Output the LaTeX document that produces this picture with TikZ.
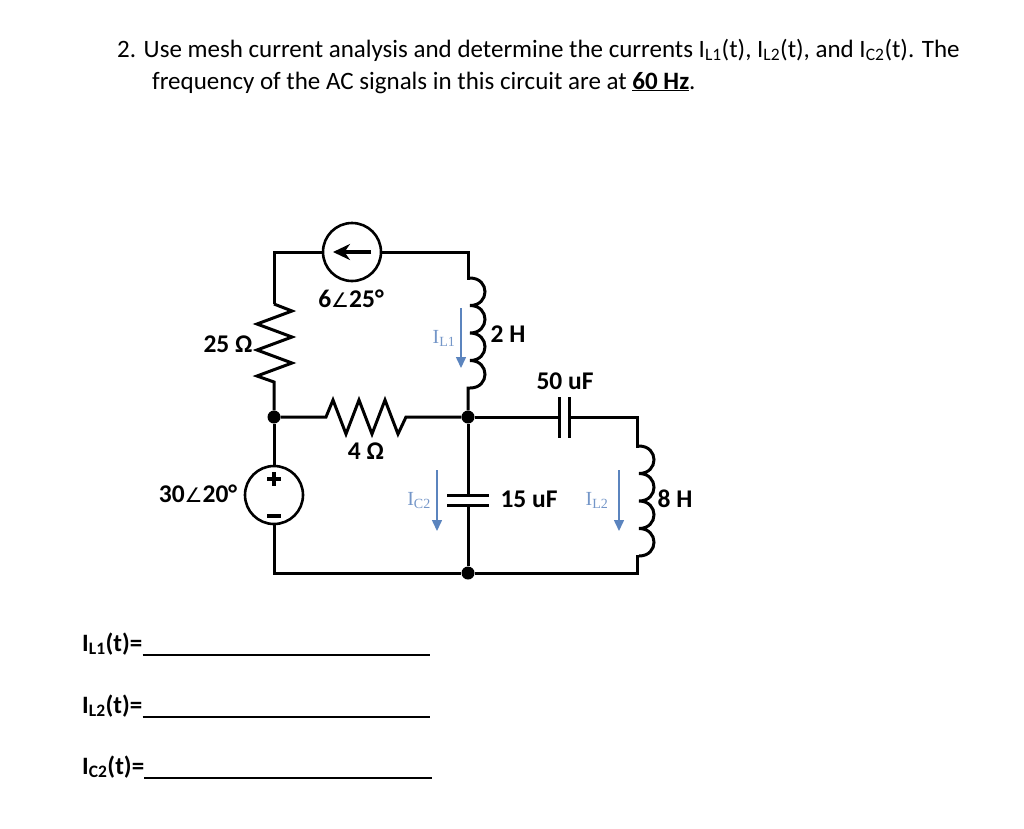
\documentclass[tikz,border=0pt]{standalone}
\usepackage{fontspec}
\setmainfont{Carlito}
\newfontfamily\seriffont{Liberation Serif}
\newfontfamily\symfont{DejaVu Sans}
\usetikzlibrary{arrows.meta}
\definecolor{curblue}{HTML}{5B84BE}
\newcommand{\ang}{{\symfont\fontsize{20}{20}\selectfont\mdseries ∠}}
\tikzset{
  wire/.style={line width=3pt,line join=miter,line cap=butt},
  dot/.style={circle,fill=black,inner sep=0pt,minimum size=13pt},
  src/.style={circle,draw,line width=2.6pt,fill=white,inner sep=0pt,minimum size=58pt},
  val/.style={font=\fontsize{25.5}{25.5}\selectfont\bfseries,inner sep=0pt,anchor=base},
  curlab/.style={font=\seriffont\fontsize{20}{20}\selectfont,text=curblue!85,inner sep=0pt,anchor=base},
  curarrow/.style={draw=curblue,line width=1.5pt,-{Triangle[length=11pt,width=10pt]}},
  ans/.style={font=\fontsize{25}{25}\selectfont\bfseries,inner sep=0pt,anchor=base west},
  body/.style={font=\fontsize{25}{25}\selectfont,inner sep=0pt,anchor=base west},
  answerline/.style={line width=2.8pt}
}
\begin{document}
\begin{tikzpicture}[x=1pt,y=-1pt]
\useasboundingbox (0,0) rectangle (1024,828);
% text
\node[body] (t1) at (117,57) {2. Use mesh current analysis and determine the currents I\textsubscript{L1}(t), I\textsubscript{L2}(t), and I\textsubscript{C2}(t). The};
\node[body] (t2) at (152,89) {frequency of the AC signals in this circuit are at \textbf{\underline{60 Hz}}.};
% junctions
\coordinate (tl) at (274,252);
\coordinate (tr) at (468,252);
\coordinate (l1a) at (470,278);
\coordinate (l1b) at (470,388);
\coordinate (r25a) at (274,304);
\coordinate (r25b) at (274,382);
\coordinate (r4a) at (326,417);
\coordinate (r4b) at (406,417);
\coordinate (c1a) at (559,417);
\coordinate (c1b) at (569,417);
\coordinate (mr) at (637,417);
\coordinate (l2a) at (639,446);
\coordinate (l2b) at (639,556);
\coordinate (br) at (637,573);
\coordinate (bl) at (274,573);
\coordinate (c2a) at (468,495);
\coordinate (c2b) at (468,505);
\node[dot] (nl) at (274,417) {};
\node[dot] (nm) at (468,417) {};
\node[dot] (nb) at (468,573) {};
% wires
\node[src] (is) at (352,252) {};
\node[src] (vs) at (274,495) {};
\draw[wire] (is) -- (tl) -- (r25a);
\draw[wire] (is) -- (tr) |- (l1a);
\draw[wire] (r25a) -- ++(18,7) -- ++(-35,13) -- ++(35,13) -- ++(-35,13) -- ++(35,13) -- ++(-35,13) -- (r25b) -- (nl);
\draw[wire] (nl) -- (r4a) -- ++(7,-17) -- ++(13,34) -- ++(13,-34) -- ++(13,34) -- ++(13,-34) -- ++(13,34) -- (r4b) -- (nm);
\draw[wire] (l1a) .. controls +(20,0) and +(20,0) .. ++(0,27.5) .. controls +(20,0) and +(20,0) .. ++(0,27.5) .. controls +(20,0) and +(20,0) .. ++(0,27.5) .. controls +(20,0) and +(20,0) .. (l1b) -- (468,388) -- (nm);
\draw[wire] (nl) -- (vs);
\draw[wire] (vs) -- (bl) -- (nb) -- (br) |- (l2b);
\draw[wire] (l2a) .. controls +(20,0) and +(20,0) .. ++(0,27.5) .. controls +(20,0) and +(20,0) .. ++(0,27.5) .. controls +(20,0) and +(20,0) .. ++(0,27.5) .. controls +(20,0) and +(20,0) .. (l2b);
\draw[wire] (l2a) -- ++(-2,0) -- (mr) -- (c1b);
\draw[wire] (nm) -- (c1a);
\draw[wire] (nm) -- (c2a);
\draw[wire] (c2b) -- (nb);
\draw[wire] (559,397) -- (559,438);
\draw[wire] (569,397) -- (569,438);
\draw[wire] (447,495) -- (489,495);
\draw[wire] (447,505) -- (489,505);
% source symbols
\draw[line width=3.2pt,-{Stealth[length=17pt,width=16pt]}] (371,252) -- (333,252);
\draw[line width=3.2pt] (267,479) -- (281,479) (274,472) -- (274,486);
\draw[line width=3.2pt] (267,516) -- (281,516);
% values
\node[val] (v1) at (351,307) {6\ang25°};
\node[val] (v2) at (228,352) {25 Ω};
\node[val] (v3) at (508,342) {2 H};
\node[val] (v4) at (565,389) {50 uF};
\node[val] (v5) at (366,459) {4 Ω};
\node[val] (v6) at (198,502) {30\ang20°};
\node[val] (v7) at (529,507) {15 uF};
\node[val] (v8) at (675,507) {8 H};
% currents
\coordinate (a1s) at (461,308); \coordinate (a1e) at (461,368);
\coordinate (a2s) at (437,470); \coordinate (a2e) at (437,531);
\coordinate (a3s) at (619,470); \coordinate (a3e) at (619,531);
\draw[curarrow] (a1s) -- (a1e);
\draw[curarrow] (a2s) -- (a2e);
\draw[curarrow] (a3s) -- (a3e);
\node[curlab] (i1) at (444,343) {I\textsubscript{L1}};
\node[curlab] (i2) at (419,505) {I\textsubscript{C2}};
\node[curlab] (i3) at (597,505) {I\textsubscript{L2}};
% answers
\node[ans] (s1) at (82,651) {I\textsubscript{L1}(t)=};
\node[ans] (s2) at (82,713) {I\textsubscript{L2}(t)=};
\node[ans] (s3) at (82,774) {I\textsubscript{C2}(t)=};
\coordinate (e1) at (430,655); \coordinate (e2) at (430,717); \coordinate (e3) at (432,778);
\draw[answerline] (s1.base east |- e1) -- (e1);
\draw[answerline] (s2.base east |- e2) -- (e2);
\draw[answerline] (s3.base east |- e3) -- (e3);
\end{tikzpicture}
\end{document}
